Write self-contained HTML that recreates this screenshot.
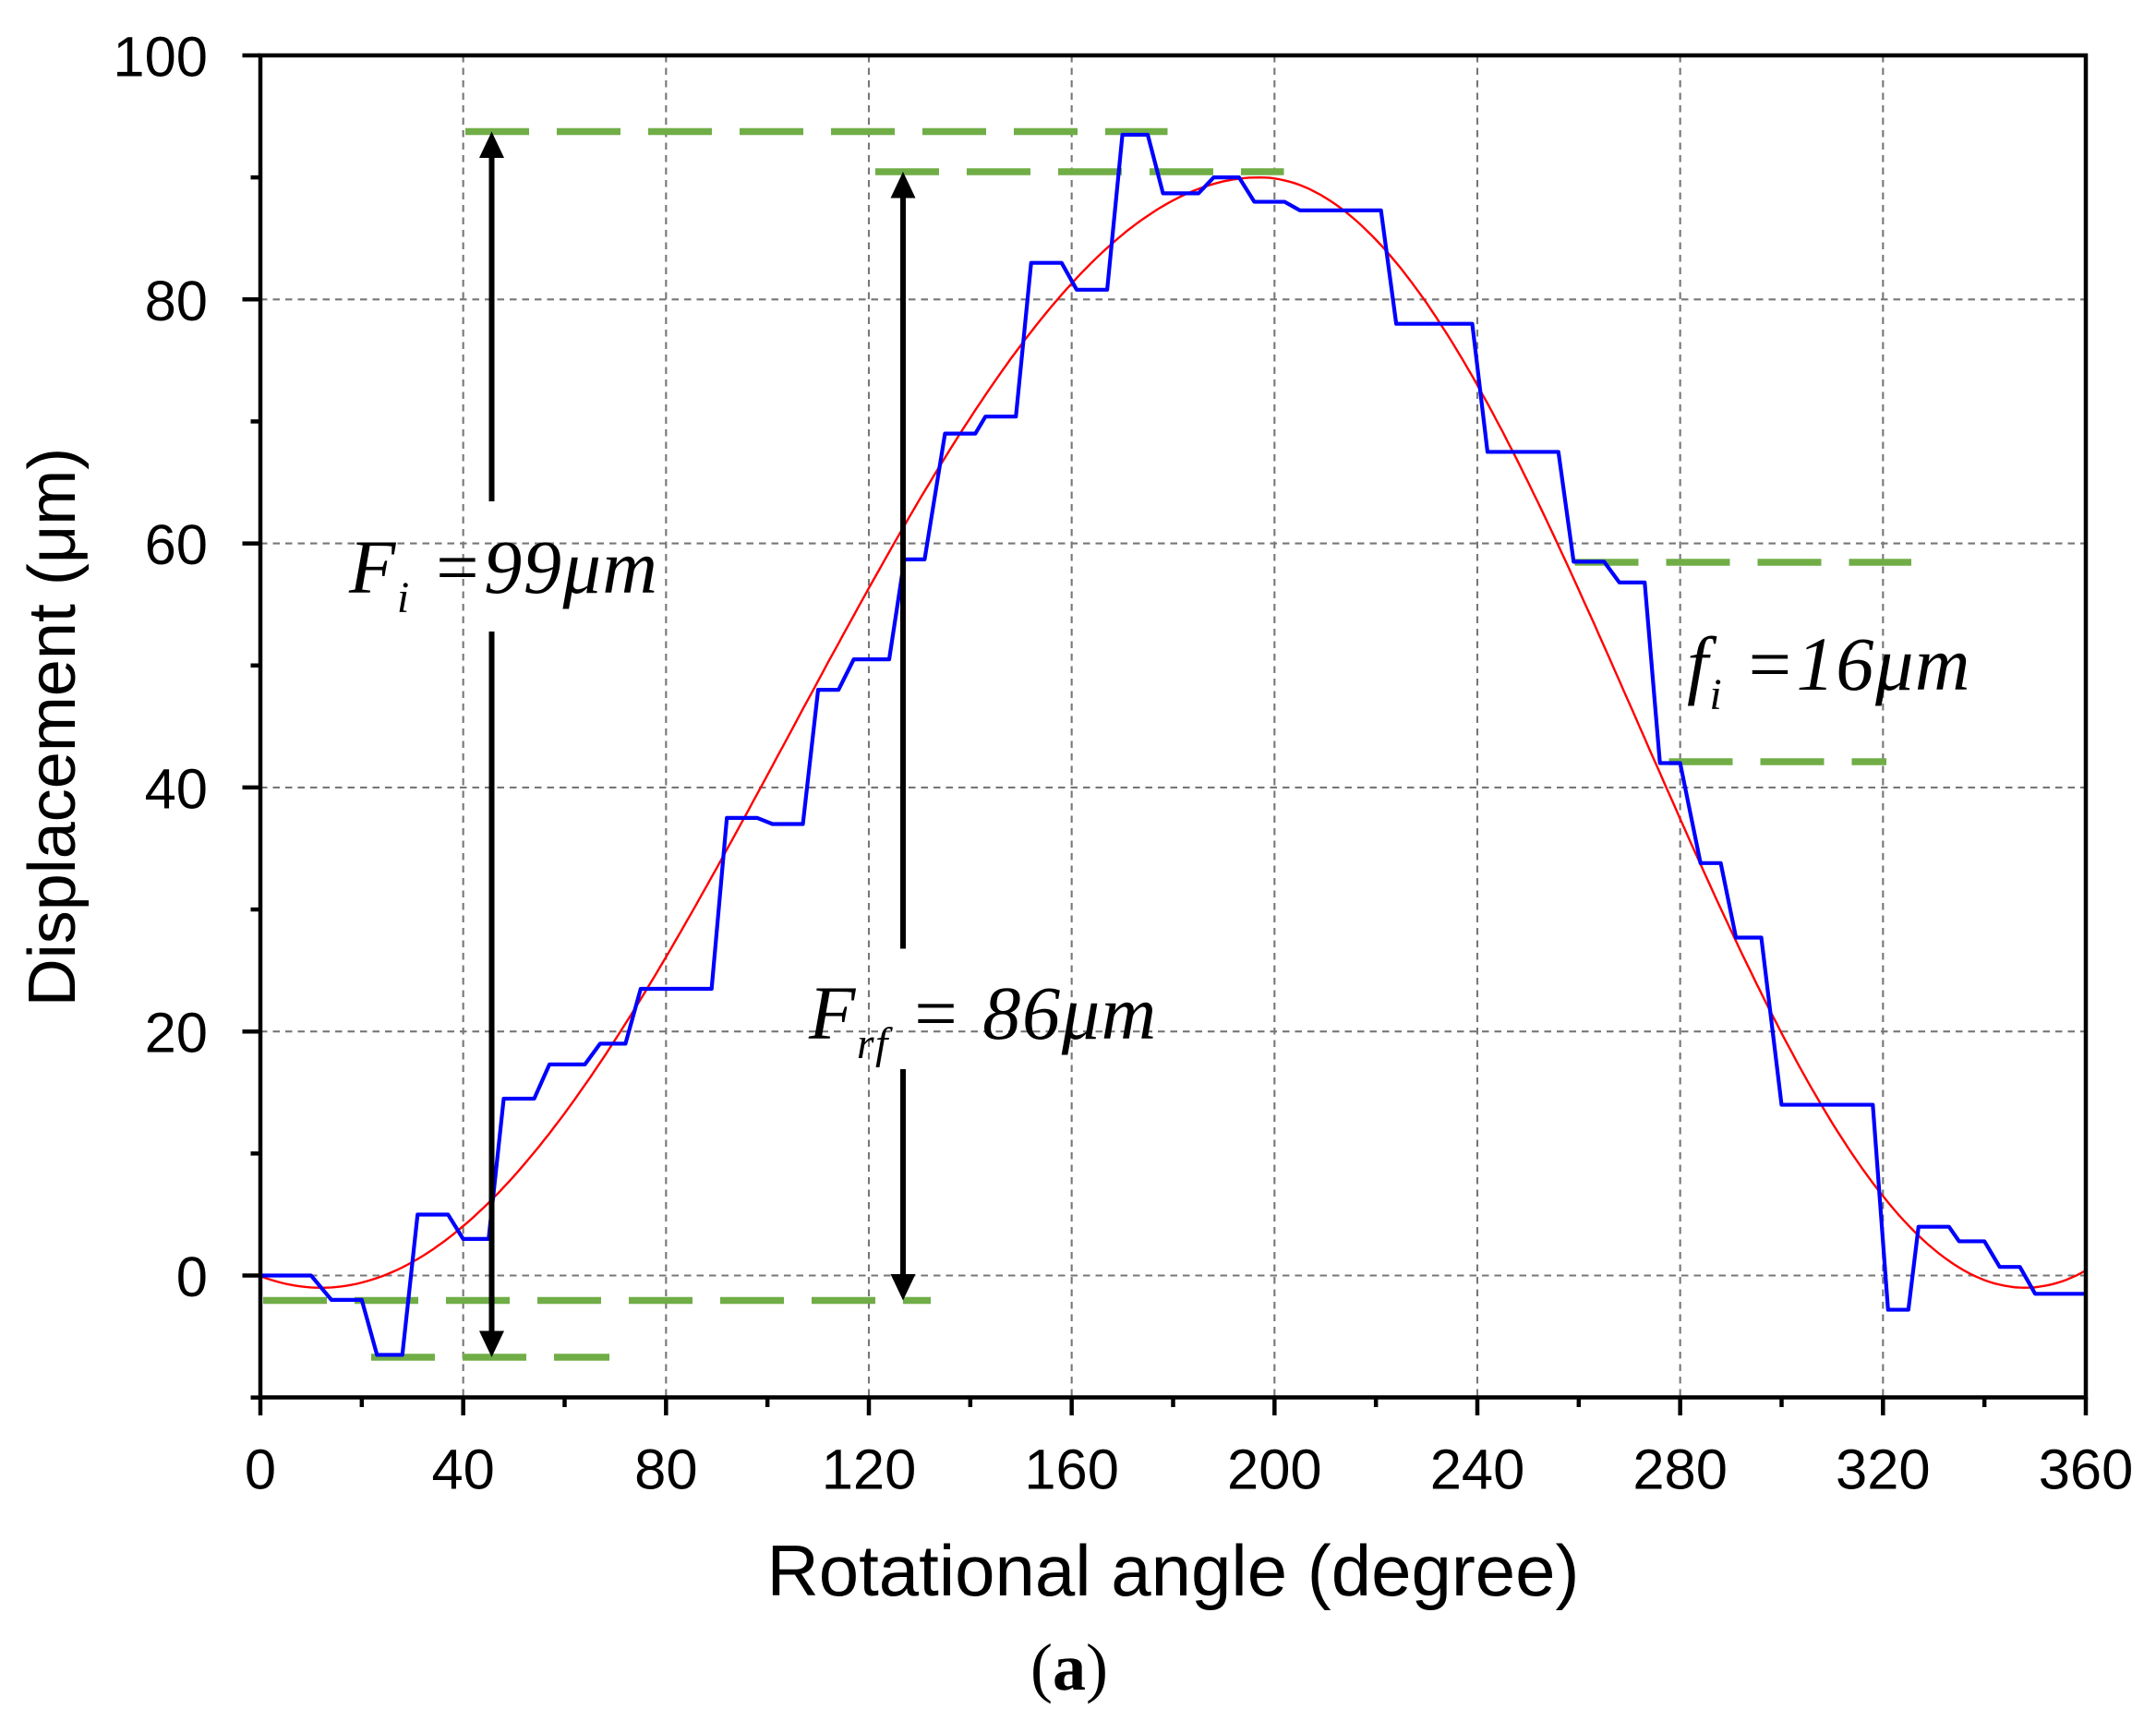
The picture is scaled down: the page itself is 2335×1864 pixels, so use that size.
<!DOCTYPE html>
<html><head><meta charset="utf-8"><style>
html,body{margin:0;padding:0;background:#fff;}
svg{display:block;}
</style></head><body>
<svg id="s" width="2335" height="1864" viewBox="0 0 1556.67 1242.67" xmlns="http://www.w3.org/2000/svg">
<rect width="1556.67" height="1242.67" fill="#fff"/>
<g id="grid" stroke="#777" stroke-width="1.4" stroke-dasharray="5,4" fill="none"></g>
<g id="green" stroke="#70ad47" stroke-width="5" stroke-dasharray="46,20" fill="none">
<line x1="336" y1="95" x2="843" y2="95"/>
<line x1="632" y1="124" x2="927" y2="124"/>
<line x1="190" y1="939" x2="672" y2="939"/>
<line x1="268" y1="980" x2="440" y2="980"/>
<line x1="1137" y1="406" x2="1380" y2="406"/>
<line x1="1205" y1="550" x2="1362" y2="550"/>
</g>
<path id="red" fill="none" stroke="#ff0000" stroke-width="1.6"/>
<path id="blue" fill="none" stroke="#0000ff" stroke-width="2.8" stroke-linejoin="round"/>
<g stroke="#000" stroke-width="4">
<line x1="355" y1="112" x2="355" y2="362"/>
<line x1="355" y1="456" x2="355" y2="962"/>
<line x1="652" y1="141" x2="652" y2="685"/>
<line x1="652" y1="772" x2="652" y2="922"/>
</g>
<g fill="#000">
<polygon points="355,95 346,114 364,114"/>
<polygon points="355,980 346,961 364,961"/>
<polygon points="652,124 643,143 661,143"/>
<polygon points="652,939 643,920 661,920"/>
</g>
<g font-family="Liberation Serif, serif" font-style="italic" fill="#000" letter-spacing="1">
<text x="252" y="428" font-size="55">F<tspan font-size="32" dy="14">i</tspan><tspan dy="-14"> =99μm</tspan></text>
<text x="584" y="750" font-size="55">F<tspan font-size="32" dy="14">rf</tspan><tspan dy="-14"> = 86μm</tspan></text>
<text x="1218" y="498" font-size="55">f<tspan font-size="32" dy="14">i</tspan><tspan dy="-14"> =16μm</tspan></text>
</g>
<g id="axes" stroke="#000" stroke-width="3" fill="none">
<rect x="188" y="40" width="1318" height="969"/>
</g>
<g id="ticks" stroke="#000" stroke-width="3"></g>
<g id="labels" font-family="Liberation Sans, sans-serif" font-size="41" fill="#000"></g>
<text x="847" y="1152" text-anchor="middle" font-family="Liberation Sans, sans-serif" font-size="52">Rotational angle (degree)</text>
<text transform="translate(54,525) rotate(-90)" text-anchor="middle" font-family="Liberation Sans, sans-serif" font-size="48">Displacement (μm)</text>
<text x="772" y="1220" text-anchor="middle" font-family="Liberation Serif, serif" font-size="48">(<tspan font-weight="bold">a</tspan>)</text>
<script>
var X=function(a){return 188+a*1318/360;}, Y=function(v){return 921-v*8.81;};
var ns="http://www.w3.org/2000/svg";
function el(p,t,at,txt){var e=document.createElementNS(ns,t);for(var k in at)e.setAttribute(k,at[k]);if(txt!=null)e.textContent=txt;document.getElementById(p).appendChild(e);}
for(var a=40;a<360;a+=40)el("grid","line",{x1:X(a),y1:40,x2:X(a),y2:1009});
for(var v=20;v<100;v+=20)el("grid","line",{x1:188,y1:Y(v),x2:1506,y2:Y(v)});
el("grid","line",{x1:188,y1:Y(0),x2:1506,y2:Y(0)});
for(var a=0;a<=360;a+=20){var m=a%40==0;el("ticks","line",{x1:X(a),y1:1009,x2:X(a),y2:1009+(m?13:7)});if(m)el("labels","text",{x:X(a),y:1075,"text-anchor":"middle"},a);}
for(var v=-10;v<=100;v+=10){var m=v%20==0;el("ticks","line",{x1:188,y1:Y(v),x2:188-(m?13:7),y2:Y(v)});if(m)el("labels","text",{x:150,y:Y(v)+15,"text-anchor":"end"},v);}
var d="";for(var a=0;a<=360;a+=1){var y;if(a<197)y=44.5-45.5*Math.cos(Math.PI*(a-12)/185);else y=44.5+45.5*Math.cos(Math.PI*(a-197)/151);d+=(a?"L":"M")+X(a).toFixed(1)+","+Y(y).toFixed(1);}
document.getElementById("red").setAttribute("d",d);
var s=[[0,10,0],[14,20,-2],[23,28,-6.5],[31,37,5],[40,45,3],[48,54,14.5],[57,64,17.3],[67,72,19],[75,89,23.5],[92,98,37.5],[101,107,37],[110,114,48],[117,124,50.5],[127,131,58.7],[135,141,69],[143,149,70.4],[152,158,83],[161,167,80.8],[170,175,93.5],[178,185,88.7],[188,193,90],[196,202,88],[205,221,87.3],[224,239,78],[242,256,67.5],[259,265,58.5],[268,273,56.8],[276,280,42],[284,288,33.8],[291,296,27.7],[300,318,14],[321,325,-2.8],[327,333,4],[335,340,2.8],[343,347,0.7],[350,360,-1.5]];
d="";s.forEach(function(p,i){d+=(i?"L":"M")+X(p[0]).toFixed(1)+","+Y(p[2]).toFixed(1)+"L"+X(p[1]).toFixed(1)+","+Y(p[2]).toFixed(1);});
document.getElementById("blue").setAttribute("d",d);
</script>
</svg>
</body></html>
